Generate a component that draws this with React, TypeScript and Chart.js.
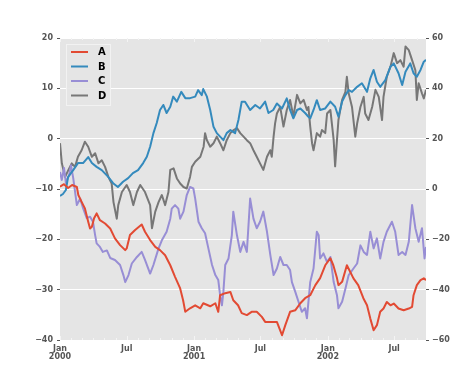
import React, { useEffect, useRef } from 'react';
import { Chart, registerables } from 'chart.js';

Chart.register(...registerables);

// ---- data (day index from 2000-01-01, 1000 daily periods) ----
const seriesNames = ['A', 'B', 'C', 'D'];
const seriesColors = ['#E24A33', '#348ABD', '#988ED5', '#777777'];

// A and B are plotted against the right-hand axis
const aDays = [0,11,22,33,46,50,59,68,77,82,87,93,100,109,123,137,150,164,178,182,191,205,223,232,246,260,273,287,301,314,328,336,342,355,369,383,391,410,424,432,437,451,465,473,486,496,510,523,537,551,560,574,592,606,615,628,642,656,669,683,697,710,724,738,746,756,760,770,783,792,801,814,828,838,847,856,865,874,883,892,902,911,924,938,952,961,965,974,984,993,999];
const aValues = [0.9,1.9,0.4,1.6,0.8,-2.4,-5.1,-7.7,-13.0,-15.7,-15.0,-11.6,-9.7,-12.4,-13.7,-15.7,-19.6,-22.3,-24.3,-23.6,-18.3,-16.3,-14.1,-17.0,-20.3,-23.0,-24.3,-26.3,-30.3,-34.9,-39.5,-44.2,-48.8,-47.4,-46.2,-47.4,-45.4,-46.6,-45.4,-48.8,-42.2,-41.4,-40.9,-44.2,-46.2,-49.3,-50.1,-48.8,-48.8,-50.8,-52.8,-52.8,-52.8,-58.1,-54.1,-48.8,-48.2,-45.4,-43.4,-42.2,-38.2,-35.4,-30.3,-27.5,-30.3,-35.4,-38.2,-36.9,-30.3,-32.9,-35.5,-38.2,-43.4,-46.2,-51.5,-56.1,-54.1,-48.8,-47.5,-44.9,-46.2,-45.5,-47.5,-48.2,-47.5,-46.8,-42.2,-38.2,-36.2,-35.5,-36.2];

const bDays = [0,8,16,22,36,49,63,77,87,100,114,131,145,158,172,186,199,213,227,237,246,255,264,273,282,291,301,309,319,331,342,355,369,377,387,391,401,410,419,428,437,446,455,465,478,487,496,505,519,533,546,560,569,582,592,606,619,628,637,647,656,669,678,683,692,701,710,724,738,751,760,770,779,788,797,811,824,838,847,856,865,874,888,902,911,924,934,943,956,965,974,984,993,999];
const bValues = [-2.8,-2.0,-0.4,4.7,7.5,10.3,10.3,12.7,10.3,8.8,7.5,4.9,2.3,0.8,2.9,4.3,6.3,7.5,10.3,12.8,16.8,22.2,26.2,31.4,33.4,30.2,32.7,36.7,34.7,38.6,36.1,36.1,36.7,39.3,37.3,39.7,36.7,31.4,24.7,22.2,20.8,19.4,22.2,23.4,22.2,27.4,34.7,34.7,31.4,33.4,32.0,34.7,30.2,31.4,34.0,32.0,36.0,31.4,28.1,31.4,32.0,30.2,28.7,28.1,31.4,35.3,31.4,32.0,34.7,32.7,28.7,34.7,37.3,39.3,38.6,40.6,42.0,38.6,44.0,47.3,42.6,40.6,43.3,48.6,49.9,46.0,41.3,46.6,49.9,46.0,44.6,47.3,50.6,51.3];

// C and D are plotted against the left-hand axis
const cDays = [0,5,11,16,25,30,36,46,55,63,73,82,90,96,100,109,117,128,137,150,164,173,178,187,196,210,223,232,246,255,269,278,291,301,305,314,323,328,337,346,355,364,369,378,387,396,405,415,424,432,437,442,446,451,460,469,473,483,492,501,510,519,528,537,546,555,565,574,583,592,601,610,619,628,633,642,651,660,669,674,683,692,701,706,710,719,729,738,747,756,760,770,779,788,801,811,820,829,838,847,856,865,874,883,892,906,915,924,934,943,952,961,970,979,988,995,999];
const cValues = [-6.6,-8.2,-5.8,-8.8,-7.2,-5.3,-7.8,-13.2,-11.9,-13.8,-15.8,-15.5,-16.5,-19.2,-20.8,-21.5,-22.5,-22.2,-23.7,-24.1,-25.1,-27.1,-28.5,-27.1,-24.8,-23.5,-22.5,-24.1,-26.8,-25.1,-21.8,-20.2,-18.5,-15.9,-13.9,-13.2,-13.9,-15.9,-14.5,-11.2,-9.6,-9.9,-11.9,-16.5,-17.8,-18.8,-21.8,-25.1,-27.1,-28.1,-31.1,-33.1,-30.4,-25.1,-23.8,-19.2,-14.5,-19.2,-22.5,-20.5,-22.5,-11.9,-15.9,-17.8,-16.5,-14.5,-18.5,-23.1,-27.1,-25.8,-23.5,-25.1,-25.1,-26.1,-28.5,-30.4,-32.4,-34.4,-33.7,-35.7,-28.5,-25.8,-18.5,-19.2,-23.8,-22.8,-24.5,-23.5,-28.5,-31.1,-33.7,-32.4,-29.8,-27.1,-25.8,-24.8,-21.2,-22.5,-23.1,-18.5,-21.8,-19.8,-23.8,-20.5,-18.5,-16.5,-18.5,-23.1,-22.5,-23.1,-20.5,-13.2,-17.8,-20.5,-17.8,-23.8,-21.5];

const dDays = [0,5,14,23,32,41,49,59,68,77,87,96,105,114,123,132,141,146,155,159,169,182,191,200,210,219,232,246,251,260,269,278,287,296,301,310,319,328,337,346,355,360,369,383,392,396,401,410,419,428,437,446,455,465,474,483,492,501,510,519,528,537,546,555,565,574,578,583,587,592,601,610,619,628,637,647,656,665,674,678,683,688,692,701,710,715,724,729,738,747,751,756,760,770,779,783,788,797,806,811,820,829,833,842,852,861,870,879,883,892,902,911,920,929,938,943,952,961,970,974,979,988,993,999];
const dValues = [-0.9,-4.9,-7.6,-6.2,-4.9,-5.6,-3.6,-2.3,-0.6,-1.6,-3.6,-2.9,-4.9,-4.3,-5.6,-7.6,-8.9,-12.6,-15.9,-13.2,-10.6,-9.2,-10.6,-13.2,-10.6,-9.2,-10.6,-13.2,-17.8,-14.5,-12.6,-11.2,-13.2,-10.6,-6.2,-5.9,-7.9,-8.9,-9.6,-9.9,-7.6,-5.6,-4.6,-3.6,-1.6,1.1,-0.3,-1.6,-0.9,0.4,-0.9,-2.3,-0.3,1.1,1.7,2.1,1.1,0.4,-0.3,-0.9,-2.3,-3.6,-4.9,-6.2,-3.6,-2.3,-3.6,0.4,3.0,5.0,6.3,2.4,5.7,7.7,4.4,8.7,7.0,7.7,5.7,6.3,2.4,-0.9,-2.3,1.1,0.4,1.7,1.1,5.0,5.7,-0.3,-5.5,-0.3,3.7,7.7,9.3,12.3,9.0,6.3,0.4,3.0,6.3,8.3,5.0,3.7,6.3,9.7,8.3,3.7,8.3,12.3,14.3,17.0,15.0,15.6,14.3,18.3,17.6,15.6,13.6,7.7,11.0,9.0,8.0,9.7];

// ---- axes ----
const leftMin = -40;
const leftMax = 20;
const leftStep = 10;
const rightMin = -60;
const rightMax = 60;
const rightStep = 20;
const lastDay = 999;
const majorTickDays = [0, 182, 366, 547, 731, 912];
const majorTickLabels: (string | string[])[] = [['Jan', '2000'], 'Jul', ['Jan', '2001'], 'Jul', ['Jan', '2002'], 'Jul'];

const DAY_MS = 86400000;
const origin = Date.UTC(2000, 0, 1);
const monthDays: number[] = [];
for (let m = 0; m < 40; m++) {
  const d = Math.round((Date.UTC(2000, m, 1) - origin) / DAY_MS);
  if (d <= lastDay) monthDays.push(d);
}

const zip = (days: number[], vals: number[]) =>
  days.slice(0, Math.min(days.length, vals.length)).map((d, i) => ({ x: d, y: vals[i] }));

const fmtNum = (v: number) => (v < 0 ? '\u2212' + Math.abs(v) : String(v));

const FONT = '"DejaVu Sans", sans-serif';
const TICK_COLOR = '#555555';

const bgPlugin = {
  id: 'ggBackground',
  beforeDraw(chart: any) {
    const { ctx, chartArea, width, height } = chart;
    ctx.save();
    ctx.fillStyle = '#ffffff';
    ctx.fillRect(0, 0, width, height);
    ctx.fillStyle = '#E5E5E5';
    ctx.fillRect(chartArea.left, chartArea.top, chartArea.right - chartArea.left, chartArea.bottom - chartArea.top);
    ctx.restore();
  },
};

const monthTickPlugin = {
  id: 'monthTicks',
  beforeDatasetsDraw(chart: any) {
    const { ctx, chartArea } = chart;
    const xs = chart.scales.x;
    ctx.save();
    ctx.strokeStyle = '#f4f4f4';
    ctx.lineWidth = 1;
    monthDays.forEach((d) => {
      const px = Math.round(xs.getPixelForValue(d)) + 0.5;
      const len = majorTickDays.includes(d) ? 4 : 2;
      ctx.beginPath();
      ctx.moveTo(px, chartArea.bottom);
      ctx.lineTo(px, chartArea.bottom - len);
      ctx.moveTo(px, chartArea.top);
      ctx.lineTo(px, chartArea.top + len);
      ctx.stroke();
    });
    ctx.restore();
  },
};

const legendPlugin = {
  id: 'insideLegend',
  afterDraw(chart: any) {
    const { ctx, chartArea } = chart;
    const x0 = chartArea.left + 6;
    const y0 = chartArea.top + 6;
    const w = 45;
    const h = 62;
    ctx.save();
    ctx.fillStyle = 'rgba(229,229,229,0.92)';
    ctx.fillRect(x0, y0, w, h);
    ctx.strokeStyle = '#f2f2f2';
    ctx.lineWidth = 1;
    ctx.strokeRect(x0 + 0.5, y0 + 0.5, w - 1, h - 1);
    chart.data.datasets.forEach((ds: any, i: number) => {
      const cy = y0 + 8 + i * 14.5;
      ctx.strokeStyle = ds.borderColor;
      ctx.lineWidth = 2;
      ctx.beginPath();
      ctx.moveTo(x0 + 5, cy);
      ctx.lineTo(x0 + 22, cy);
      ctx.stroke();
      ctx.fillStyle = '#000000';
      ctx.font = 'bold 10px ' + FONT;
      ctx.textBaseline = 'middle';
      ctx.textAlign = 'left';
      ctx.fillText(ds.label, x0 + 32, cy + 0.5);
    });
    ctx.restore();
  },
};

export default function App() {
  const ref = useRef<HTMLCanvasElement | null>(null);

  useEffect(() => {
    document.body.style.margin = '0';
    const canvas = ref.current;
    if (!canvas) return;
    const seriesData = [zip(aDays, aValues), zip(bDays, bValues), zip(cDays, cValues), zip(dDays, dValues)];
    const axisOf = ['y1', 'y1', 'y', 'y'];
    const chart = new Chart(canvas, {
      type: 'line',
      data: {
        datasets: seriesNames.map((name, i) => ({
          label: name,
          data: seriesData[i],
          borderColor: seriesColors[i],
          backgroundColor: seriesColors[i],
          borderWidth: 2,
          pointRadius: 0,
          tension: 0,
          borderJoinStyle: 'round' as const,
          yAxisID: axisOf[i],
        })),
      },
      options: {
        animation: false,
        responsive: false,
        maintainAspectRatio: false,
        events: [],
        layout: { padding: { top: 38, left: 0, right: 0, bottom: 0 } },
        plugins: { legend: { display: false }, tooltip: { enabled: false }, title: { display: false } },
        scales: {
          x: {
            type: 'linear',
            position: 'bottom',
            min: 0,
            max: lastDay,
            afterBuildTicks: (s: any) => {
              s.ticks = monthDays.map((v) => ({ value: v }));
            },
            afterFit: (s: any) => {
              s.height = 39;
            },
            ticks: {
              autoSkip: false,
              maxRotation: 0,
              minRotation: 0,
              padding: 5,
              color: TICK_COLOR,
              font: { family: FONT, size: 8, weight: 'bold', lineHeight: 1.0 },
              callback: (v: any) => {
                const idx = majorTickDays.indexOf(Number(v));
                return idx >= 0 ? majorTickLabels[idx] : '';
              },
            },
            grid: { drawOnChartArea: false, drawTicks: false },
            border: { display: false },
          },
          y: {
            type: 'linear',
            position: 'left',
            min: leftMin,
            max: leftMax,
            afterFit: (s: any) => {
              s.width = 60;
            },
            ticks: {
              stepSize: leftStep,
              padding: 4,
              color: TICK_COLOR,
              font: { family: FONT, size: 8, weight: 'bold' },
              callback: (v: any) => fmtNum(Number(v)),
            },
            grid: { color: '#ffffff', lineWidth: 1, drawTicks: true, tickLength: 3, tickColor: TICK_COLOR },
            border: { display: false },
          },
          y1: {
            type: 'linear',
            position: 'right',
            min: rightMin,
            max: rightMax,
            afterFit: (s: any) => {
              s.width = 48;
            },
            ticks: {
              stepSize: rightStep,
              padding: 3,
              color: TICK_COLOR,
              font: { family: FONT, size: 8, weight: 'bold' },
              callback: (v: any) => fmtNum(Number(v)),
            },
            grid: { drawOnChartArea: false, drawTicks: true, tickLength: 3, tickColor: TICK_COLOR },
            border: { display: false },
          },
        },
      },
      plugins: [bgPlugin, monthTickPlugin, legendPlugin],
    });
    return () => chart.destroy();
  }, []);

  return (
    <div style={{ width: 474, height: 379, background: '#ffffff' }}>
      <canvas ref={ref} width={474} height={379} style={{ display: 'block' }} />
    </div>
  );
}
